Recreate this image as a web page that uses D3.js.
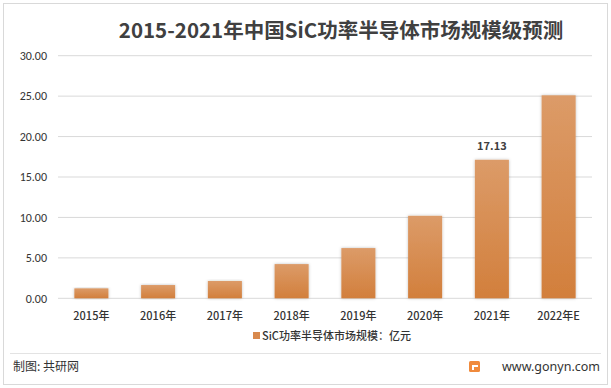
<!DOCTYPE html>
<html><head><meta charset="utf-8">
<script src="https://cdn.jsdelivr.net/npm/d3@7"></script>
<style>
html,body{margin:0;padding:0;background:#fff;}
svg{display:block;font-family:"Noto Sans CJK SC","Noto Sans",sans-serif;}
</style></head>
<body><svg id="chart" width="611" height="388"></svg>
<script>
const title = "2015-2021年中国SiC功率半导体市场规模级预测";
const categories = ["2015年","2016年","2017年","2018年","2019年","2020年","2021年","2022年E"];
const values = [1.23, 1.64, 2.14, 4.23, 6.21, 10.2, 17.13, 25.1];
const yTicks = [0, 5, 10, 15, 20, 25, 30];
const labeledCategories = ["2021年"];
const seriesName = "SiC功率半导体市场规模：亿元";
const footerLeft = "制图: 共研网";
const footerRight = "www.gonyn.com";

const svg = d3.select("#chart");
const W = 611, H = 388;
const m = {left: 58, right: 19, top: 55.7, bottom: 89.7};

// outer border
svg.append("rect").attr("x",3.5).attr("y",3.5).attr("width",W-7).attr("height",H-7)
  .attr("fill","#fff").attr("stroke","#d9d9d9").attr("stroke-width",1);

const defs = svg.append("defs");
const grad = defs.append("linearGradient").attr("id","barGrad").attr("x1",0).attr("y1",0).attr("x2",0).attr("y2",1);
grad.append("stop").attr("offset","0%").attr("stop-color","#dc9b68");
grad.append("stop").attr("offset","100%").attr("stop-color","#d27f3c");
const filt = defs.append("filter").attr("id","shadow").attr("x","-20%").attr("y","-10%").attr("width","140%").attr("height","120%");
filt.append("feDropShadow").attr("dx",0).attr("dy",0).attr("stdDeviation",1.6).attr("flood-color","#000").attr("flood-opacity",0.25);

const x = d3.scaleBand().domain(categories).range([m.left, W - m.right]).paddingInner(0.49).paddingOuter(0.245);
const y = d3.scaleLinear().domain([0, 30]).range([H - m.bottom, m.top]);

// gridlines
svg.append("g").selectAll("line").data(yTicks).join("line")
  .attr("x1", m.left).attr("x2", W - m.right)
  .attr("y1", d => y(d)).attr("y2", d => y(d))
  .attr("stroke", "#d9d9d9").attr("stroke-width", 1);

// y axis labels
const yAxis = d3.axisLeft(y).tickValues(yTicks).tickFormat(d3.format(".2f")).tickSize(0).tickPadding(11);
const gy = svg.append("g").attr("transform", `translate(${m.left},0)`).call(yAxis);
gy.select(".domain").remove();
gy.selectAll("text").attr("font-size", 12).attr("fill", "#333").attr("font-weight", 500)
  .attr("font-family", "Calibri, Carlito, 'Liberation Sans', sans-serif");

// bars
svg.append("g").selectAll("rect").data(values).join("rect")
  .attr("x", (d,i) => x(categories[i]))
  .attr("y", d => y(d))
  .attr("width", x.bandwidth())
  .attr("height", d => y(0) - y(d))
  .attr("fill", "url(#barGrad)")
  .attr("filter", "url(#shadow)");

// data label
svg.append("g").selectAll("text").data(values.map((v,i)=>({v,c:categories[i]})).filter(d => labeledCategories.includes(d.c)))
  .join("text")
  .attr("x", d => x(d.c) + x.bandwidth()/2)
  .attr("y", d => y(d.v) - 10)
  .attr("text-anchor","middle").attr("font-size", 11).attr("font-weight","bold").attr("fill","#404040")
  .text(d => d3.format(".2f")(d.v));

// x axis
const xAxis = d3.axisBottom(x).tickSize(0).tickPadding(14);
const gx = svg.append("g").attr("transform", `translate(0,${y(0)})`).call(xAxis);
gx.select(".domain").remove();
gx.selectAll("text").attr("font-size", 11).attr("fill", "#333")
  .attr("font-family", "'Noto Sans CJK SC', sans-serif").attr("font-weight", 500);

// legend
const leg = svg.append("g");
leg.append("text").attr("x", 262).attr("y", 340).attr("font-size", 11).attr("fill","#333").attr("font-weight", 500)
  .text(seriesName);
leg.append("rect").attr("x", 253).attr("y", 332).attr("width", 7).attr("height", 7).attr("fill","#d8894d");

// title
svg.append("text").attr("x", 341).attr("y", 38).attr("text-anchor","middle")
  .attr("font-size", 20.5).attr("font-weight","bold").attr("fill","#404040")
  .text(title);

// footer separator
svg.append("line").attr("x1", 10).attr("x2", 601).attr("y1", 353.5).attr("y2", 353.5)
  .attr("stroke","#e3e3e3").attr("stroke-width",1);
svg.append("text").attr("x", 13).attr("y", 371).attr("font-size", 12).attr("fill","#333")
  .text(footerLeft);
svg.append("text").attr("x", 600).attr("y", 371).attr("text-anchor","end").attr("font-size", 12.5).attr("fill","#333")
  .attr("font-family","'Noto Sans', sans-serif")
  .text(footerRight);
// logo
const lg = svg.append("g").attr("transform","translate(469,361)");
lg.append("rect").attr("width",11).attr("height",11).attr("rx",1.5).attr("fill","#f08a3c");
lg.append("rect").attr("x",3).attr("y",4).attr("width",6).attr("height",2).attr("fill","#fff");
lg.append("rect").attr("x",3).attr("y",4).attr("width",2).attr("height",5).attr("fill","#fff");
</script></body></html>
